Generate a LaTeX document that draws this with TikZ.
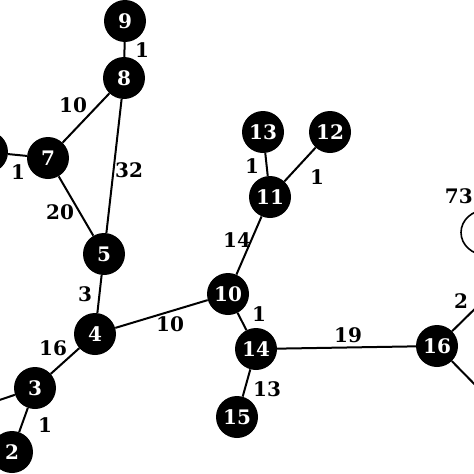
\documentclass[tikz,border=0pt]{standalone}
\usepackage{fontspec}
\setmainfont{DejaVu Serif}
\begin{document}
\begin{tikzpicture}[x=1pt,y=-1pt,
  vtx/.style={circle,fill=black,minimum size=42pt,inner sep=0pt,text=white,font=\fontsize{20}{20}\selectfont\bfseries},
  wlab/.style={font=\fontsize{20}{20}\selectfont\bfseries,inner sep=0pt},
  edge/.style={line width=2pt}]
\useasboundingbox (0,0) rectangle (474,474);
\begin{scope}
\clip (0,0) rectangle (474,474);
\node[vtx] (n9) at (125,21) {9};
\node[vtx] (n8) at (124,78) {8};
\node[vtx] (n7) at (48,158) {7};
\node[vtx] (n6) at (-13,152) {};
\node[vtx] (n5) at (104,254) {5};
\node[vtx] (n4) at (95,334) {4};
\node[vtx] (n3) at (35,388) {3};
\node[vtx] (n2) at (12,452) {2};
\node[vtx] (n10) at (228,294) {10};
\node[vtx] (n11) at (270,197) {11};
\node[vtx] (n13) at (263,132) {13};
\node[vtx] (n12) at (330,132) {12};
\node[vtx] (n14) at (256,349) {14};
\node[vtx] (n15) at (237,417) {15};
\node[vtx] (n16) at (437,346) {16};
\coordinate (c3l) at (-30,410);
\coordinate (c16u) at (490,294);
\coordinate (c16d) at (490,400);
\draw[edge] (n9) -- (n8);
\draw[edge] (n8) -- (n7);
\draw[edge] (n8) -- (n5);
\draw[edge] (n6) -- (n7);
\draw[edge] (n7) -- (n5);
\draw[edge] (n5) -- (n4);
\draw[edge] (n4) -- (n10);
\draw[edge] (n4) -- (n3);
\draw[edge] (n3) -- (n2);
\draw[edge] (n3) -- (c3l);
\draw[edge] (n10) -- (n11);
\draw[edge] (n11) -- (n13);
\draw[edge] (n11) -- (n12);
\draw[edge] (n10) -- (n14);
\draw[edge] (n14) -- (n16);
\draw[edge] (n14) -- (n15);
\draw[edge] (n16) -- (c16u);
\draw[edge] (n16) -- (c16d);
\draw[line width=1.6pt] (486,232.5) ellipse [x radius=25, y radius=22.5];
\end{scope}
\node[wlab] (l98) at (142,50) {1};
\node[wlab] (l87) at (73,105) {10};
\node[wlab] (l85) at (129,170) {32};
\node[wlab] (l67) at (18,172) {1};
\node[wlab] (l75) at (60,212) {20};
\node[wlab] (l54) at (85,294) {3};
\node[wlab] (l410) at (170,324) {10};
\node[wlab] (l43) at (53,348) {16};
\node[wlab] (l32) at (45,425) {1};
\node[wlab] (l1011) at (237,240) {14};
\node[wlab] (l1311) at (252,166) {1};
\node[wlab] (l1211) at (317,177) {1};
\node[wlab] (l1014) at (259,314) {1};
\node[wlab] (l1416) at (348,335) {19};
\node[wlab] (l1415) at (267,389) {13};
\node[wlab] (l16u) at (461,301) {2};
\node[wlab,anchor=east] (l73) at (473,196) {73};
\end{tikzpicture}
\end{document}
